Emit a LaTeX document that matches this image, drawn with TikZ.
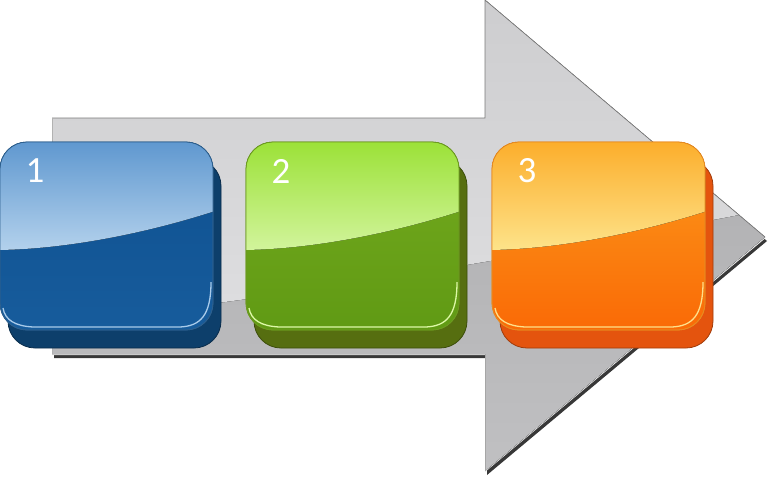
\documentclass[tikz,border=0pt]{standalone}
\usepackage{fontspec}
\setmainfont{Carlito}
\definecolor{arrowlight}{HTML}{DEDEE0}
\definecolor{arrowtop}{HTML}{CDCDCF}
\definecolor{arrowlowA}{HTML}{A8A8AA}
\definecolor{arrowlowB}{HTML}{C0C0C2}
\definecolor{arrowedge}{HTML}{7A7A7A}
\definecolor{arrowshadow}{HTML}{383838}
% blue
\definecolor{bGt}{HTML}{5E97CF}
\definecolor{bGb}{HTML}{B3D1EC}
\definecolor{bLt}{HTML}{0E5090}
\definecolor{bLb}{HTML}{175C9C}
\definecolor{bEx}{HTML}{0D3F6B}
\definecolor{bEd}{HTML}{2C5F8E}
\definecolor{bHi}{HTML}{A9CBEA}
% green
\definecolor{gGt}{HTML}{9BE136}
\definecolor{gGb}{HTML}{D2F49C}
\definecolor{gLt}{HTML}{74AA1E}
\definecolor{gLb}{HTML}{609A14}
\definecolor{gEx}{HTML}{566E10}
\definecolor{gEd}{HTML}{6C9A20}
\definecolor{gHi}{HTML}{DDF8A6}
% orange
\definecolor{oGt}{HTML}{FCAD2A}
\definecolor{oGb}{HTML}{FDE38A}
\definecolor{oLt}{HTML}{FB9B1C}
\definecolor{oLb}{HTML}{FA6A06}
\definecolor{oEx}{HTML}{E4540E}
\definecolor{oEd}{HTML}{E88A20}
\definecolor{oHi}{HTML}{FEE08A}
\tikzset{
  face/.style={rounded corners=27pt, minimum width=213pt, minimum height=188pt,
    inner sep=0pt, line width=0.8pt},
  numlabel/.style={text=white, font=\fontsize{37}{37}\selectfont, inner sep=0pt},
}
\newcommand\stepboxdraw[9]{%
  \begin{scope}[shift={(#1,0)}]
    \fill[#4, rounded corners=27pt] (8,159) rectangle (221,348);
    \draw[#4!70!black, line width=0.8pt, rounded corners=27pt] (8,159) rectangle (221,348);
    \node[face, top color=#7, bottom color=#8, draw=#9] (#2) at (106.5,236) {};
    \begin{scope}
      \clip[rounded corners=27pt] (0,142) rectangle (213,330);
      \fill[top color=#5, bottom color=#6] (-2,140) -- (215,140) -- (215,211)
        .. controls (150,232) and (70,249) .. (-2,250) -- cycle;
    \end{scope}
    \draw[#9, line width=0.8pt, rounded corners=27pt] (0,142) rectangle (213,330);
    \draw[#3, line width=1.3pt] (211,282) .. controls (211,316) and (200,326) .. (180,327)
      -- (33,327) .. controls (15,326) and (5,320) .. (3,308);
  \end{scope}
}
\begin{document}
\begin{tikzpicture}[x=1pt,y=-1pt]
  \useasboundingbox (0,0) rectangle (768,477);
  \coordinate (sl) at (52,118);
  \coordinate (sb) at (485,118);
  \coordinate (ht) at (485,0);
  \coordinate (tip) at (765,237);
  \coordinate (hb) at (485,471);
  \coordinate (hs) at (485,354);
  \coordinate (bl) at (52,354);
  % arrow thickness (dark underside)
  \fill[arrowshadow] ([shift={(2,4)}]sl) -- ([shift={(2,4)}]sb) -- ([shift={(2,4)}]ht)
    -- ([shift={(2,4)}]tip) -- ([shift={(2,4)}]hb) -- ([shift={(2,4)}]hs)
    -- ([shift={(2,4)}]bl) -- cycle;
  \fill[white!92!black] ([shift={(0,1)}]bl) -- ([shift={(0,1)}]hs) -- ([shift={(0,1)}]hb)
    -- ([shift={(0.6,1)}]tip) -- (tip) -- (hb) -- (hs) -- (bl) -- cycle;
  % arrow body
  \fill[top color=arrowlowA, bottom color=arrowlowB]
    (sl) -- (sb) -- (ht) -- (tip) -- (hb) -- (hs) -- (bl) -- cycle;
  \begin{scope}
    \clip (sl) -- (sb) -- (ht) -- (tip) -- (hb) -- (hs) -- (bl) -- cycle;
    \fill[top color=arrowtop, bottom color=arrowlight]
      (40,-5) -- (790,-5) -- (790,205) .. controls (500,262) and (250,305) .. (40,322) -- cycle;
  \end{scope}
  \draw[arrowedge, line width=0.7pt] (sl) -- (sb) -- (ht) -- (tip);
  \draw[black!30, line width=0.6pt] (sl) -- (bl);
  \draw[black!35, line width=0.6pt] (hs) -- (hb);
  % boxes
  \stepboxdraw{0}{box1}{bHi}{bEx}{bGt}{bGb}{bLt}{bLb}{bEd}
  \stepboxdraw{246}{box2}{gHi}{gEx}{gGt}{gGb}{gLt}{gLb}{gEd}
  \stepboxdraw{492}{box3}{oHi}{oEx}{oGt}{oGb}{oLt}{oLb}{oEd}
  \node[numlabel] (n1) at (35,171) {1};
  \node[numlabel] (n2) at (281,171) {2};
  \node[numlabel] (n3) at (527,171) {3};
\end{tikzpicture}
\end{document}
